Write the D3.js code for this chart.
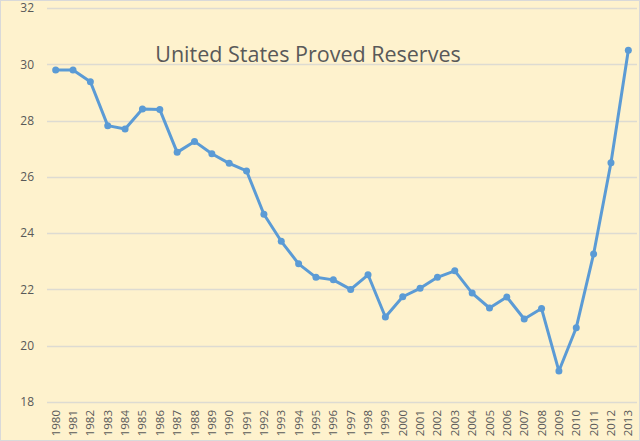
<!DOCTYPE html>
<html lang="en">
<head>
<meta charset="utf-8">
<script src="https://d3js.org/d3.v7.min.js"></script>
<style>
  body { margin: 0; background: #fff; }
  text { font-family: "Open Sans", "Noto Sans", sans-serif; }
</style>
</head>
<body>
<div id="chart"></div>
<script>
// data
var years = ["1980","1981","1982","1983","1984","1985","1986","1987","1988","1989",
             "1990","1991","1992","1993","1994","1995","1996","1997","1998","1999",
             "2000","2001","2002","2003","2004","2005","2006","2007","2008","2009",
             "2010","2011","2012","2013"];
var reserves = [29.8, 29.8, 29.38, 27.82, 27.7, 28.41, 28.39, 26.87, 27.26, 26.82,
                26.48, 26.21, 24.67, 23.71, 22.91, 22.43, 22.34, 22.0, 22.52, 21.02,
                21.74, 22.04, 22.43, 22.66, 21.87, 21.34, 21.73, 20.95, 21.32, 19.1,
                20.64, 23.26, 26.5, 30.5];
var yTicks = [18, 20, 22, 24, 26, 28, 30, 32];
var title = "United States Proved Reserves";

var W = 640, H = 441;
var margin = {top: 8, right: 3, bottom: 39, left: 47};
var width = W - margin.left - margin.right,
    height = H - margin.top - margin.bottom;

var svg = d3.select("#chart").append("svg")
    .attr("width", W).attr("height", H);

svg.append("rect")
    .attr("x", 0.5).attr("y", 0.5)
    .attr("width", W - 1).attr("height", H - 1)
    .attr("fill", "#fef2cd").attr("stroke", "#d9d9d9");

var g = svg.append("g")
    .attr("transform", "translate(" + margin.left + "," + margin.top + ")");

var x = d3.scaleBand().domain(years).range([0, width]);
var y = d3.scaleLinear().domain([18, 32]).range([height, 0]);

// gridlines
g.append("g")
  .selectAll("line")
  .data(yTicks)
  .enter().append("line")
    .attr("x1", 0).attr("x2", width)
    .attr("y1", function(d){ return Math.round(y(d)) + 0.5 })
    .attr("y2", function(d){ return Math.round(y(d)) + 0.5 })
    .attr("stroke", "#dddbd2").attr("stroke-width", 1.5);

// y axis
var yAxis = g.append("g")
    .call(d3.axisLeft(y).tickValues(yTicks).tickSize(0).tickPadding(13));
yAxis.select(".domain").remove();
yAxis.selectAll("text")
    .attr("fill", "#595959").style("font-size", "12px");

// x axis
var xAxis = g.append("g")
    .attr("transform", "translate(0," + height + ")")
    .call(d3.axisBottom(x).tickSize(0));
xAxis.select(".domain").remove();
xAxis.selectAll("text")
    .attr("fill", "#595959").style("font-size", "11.5px")
    .attr("transform", "rotate(-90)")
    .attr("text-anchor", "end")
    .attr("x", -8).attr("y", 0).attr("dy", "0.35em");

// line
var line = d3.line()
    .x(function(d, i){ return x(years[i]) + x.bandwidth() / 2 })
    .y(function(d){ return y(d) });

g.append("path")
    .datum(reserves)
    .attr("fill", "none")
    .attr("stroke", "#5b9bd5")
    .attr("stroke-width", 3)
    .attr("stroke-linejoin", "round")
    .attr("d", line);

g.selectAll("circle")
    .data(reserves)
    .enter().append("circle")
      .attr("cx", function(d, i){ return x(years[i]) + x.bandwidth() / 2 })
      .attr("cy", function(d){ return y(d) })
      .attr("r", 3.5)
      .attr("fill", "#5b9bd5");

// title
svg.append("text")
    .attr("x", 308).attr("y", 62)
    .attr("text-anchor", "middle")
    .attr("fill", "#595959")
    .style("font-size", "21.5px")
    .text(title);
</script>
</body>
</html>
